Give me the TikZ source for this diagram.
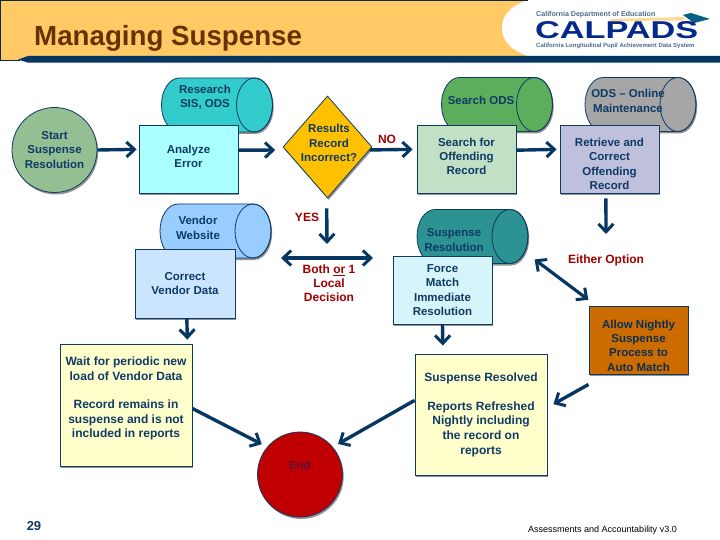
\documentclass[tikz,border=0pt]{standalone}
\usepackage{fontspec}
\setmainfont{Liberation Sans}
\usetikzlibrary{arrows.meta,shapes.geometric,shadows}
\definecolor{inkblue}{HTML}{0F3A66}
\definecolor{arrowblue}{HTML}{063763}
\definecolor{inkred}{HTML}{A00000}
\definecolor{headorange}{HTML}{FFC966}
\definecolor{titlebrown}{HTML}{663300}
\definecolor{paleyellow}{HTML}{FFFFCC}
\definecolor{tankcyan}{HTML}{33CCCC}
\definecolor{tankgreen}{HTML}{5CAD5C}
\definecolor{tankgray}{HTML}{A6A6A6}
\definecolor{tankblue}{HTML}{99CCFF}
\definecolor{tankteal}{HTML}{2D9292}
\tikzset{
    boxshadow/.style={drop shadow={shadow xshift=1.2pt,shadow yshift=-2pt,opacity=0.6,fill=black!70}},
    txt/.style={font=\fontsize{11.5}{14.3}\selectfont\bfseries,text=inkblue,align=center,inner sep=0pt},
    note/.style={font=\fontsize{12}{14}\selectfont\bfseries,text=inkred,align=center,inner sep=0pt},
    box/.style={draw=inkblue,line width=0.8pt,txt,boxshadow,anchor=center},
    disk/.style={draw=inkblue,line width=0.8pt,circle,txt,boxshadow,minimum size=85pt},
    tankline/.style={draw=inkblue,line width=0.8pt},
    flow/.style={draw=arrowblue,line width=3.4pt,-{Straight Barb[length=8pt,width=15pt,line width=3pt]}},
    flowboth/.style={draw=arrowblue,line width=3.2pt,{Straight Barb[length=8pt,width=15pt,line width=3pt]}-{Straight Barb[length=8pt,width=15pt,line width=3pt]}}
}
% name, position, colour
\newcommand{\tank}[3]{
    \node[minimum width=111pt,minimum height=54pt,inner sep=0pt] (#1) at (#2) {};
    \begin{scope}[shift={(#2)}]
        \draw[tankline,fill=#3,boxshadow] (-37.5,-27) -- (37.5,-27) .. controls (47.5,-27) and (55.5,-15) .. (55.5,0) .. controls (55.5,15) and (47.5,27) .. (37.5,27) -- (-37.5,27) .. controls (-47.5,27) and (-55.5,15) .. (-55.5,0) .. controls (-55.5,-15) and (-47.5,-27) .. (-37.5,-27) -- cycle;
        \draw[tankline] (37.5,0) ellipse [x radius=18,y radius=27];
    \end{scope}
}
\begin{document}
\begin{tikzpicture}[x=1pt,y=-1pt]
            \useasboundingbox (0,0) rectangle (720,540);
            \fill[white] (0,0) rectangle (720,540);
            % Kopf
            \fill[headorange] (0,0) -- (720,0) -- (720,60) -- (0,60) -- cycle;
            \fill[white] (528,0) .. controls (510,6) and (502,16) .. (502,28) .. controls (502,40) and (510,50) .. (528,56) -- (720,56) -- (720,0) -- cycle;
            \draw[inkblue!70!black,line width=0.8pt] (0,0.4) -- (528,0.4);
            \draw[inkblue!70!black,line width=0.8pt] (0.4,0) -- (0.4,60.5) -- (20,60.5);
            \fill[arrowblue] (18,59.5) -- (28,56) -- (720,56) -- (720,62.7) -- (28,62.7) -- cycle;
            \node[font=\fontsize{27.7}{30}\selectfont\bfseries,text=titlebrown,anchor=west,inner sep=0pt] (title) at (34,38) {Managing Suspense};
            % Logo
            \fill[headorange!70] (610,19) -- (684,17) -- (684,20.5) -- (610,21) -- cycle;
            \fill[arrowblue!80!cyan] (683,15) -- (691,13) -- (710,19) -- (694,23) -- cycle;
            \node[font=\fontsize{7.1}{8}\selectfont\bfseries,text=inkblue!75,anchor=west,inner sep=0pt] (logotop) at (536,15) {California Department of Education};
            \node[text=arrowblue!75!blue,anchor=west,inner sep=0pt] (logo) at (535,30.5) {\resizebox{163pt}{17pt}{\bfseries CALPADS}};
            \node[font=\fontsize{6}{6}\selectfont\bfseries,text=inkblue!75,anchor=west,inner sep=0pt] (logobot) at (536,45.5) {California Longitudinal Pupil Achievement Data System};
            % Zylinder
            \tank{research}{217,105}{tankcyan}
            \node[txt] (researchtext) at (205,97) {Research\\SIS, ODS};
            \tank{searchods}{497,104.5}{tankgreen}
            \node[txt] (searchodstext) at (481,100) {Search ODS};
            \tank{online}{640.5,104.5}{tankgray}
            \node[txt] (onlinetext) at (628,101) {ODS -- Online\\Maintenance};
            \tank{vendor}{215.5,231}{tankblue}
            \node[txt] (vendortext) at (198,228) {Vendor\\Website};
            \tank{suspense}{472.5,236.5}{tankteal}
            \node[txt] (suspensetext) at (454,240) {Suspense\\Resolution};
            % Start
            \node[disk,fill={rgb,255:red,147;green,191;blue,147}] (start) at (54.5,150) {Start\\Suspense\\Resolution};
            \node[disk,fill={rgb,255:red,192;green,0;blue,0}] (end) at (300,474.5) {};
            \node[txt,text={rgb,255:red,90;green,16;blue,64}] (endtext) at (300,465) {End};
            % Raute
            \node[draw=inkblue,line width=0.8pt,diamond,shape aspect=0.87,fill={rgb,255:red,255;green,192;blue,0},boxshadow,minimum width=89pt,minimum height=102pt,inner sep=0pt] (results) at (327.5,147) {};
            \node[txt] (resultstext) at (329,143) {Results\\Record\\Incorrect?};
            % Kaesten
            \node[box,fill={rgb,255:red,170;green,255;blue,255},minimum width=99pt,minimum height=68pt] (analyze) at (188.5,159) {Analyze\\Error\\[-9pt]\mbox{}};
            \node[box,fill={rgb,255:red,194;green,224;blue,198},minimum width=99pt,minimum height=68pt] (search) at (466.5,159) {Search for\\Offending\\Record\\[-9pt]\mbox{}};
            \node[box,fill={rgb,255:red,190;green,192;blue,220},minimum width=99pt,minimum height=68pt] (retrieve) at (609.5,159) {\mbox{}\\[4pt]Retrieve and\\Correct\\Offending\\Record};
            \node[box,fill={rgb,255:red,204;green,229;blue,255},minimum width=100pt,minimum height=69pt] (correct) at (185,283.5) {Correct\\Vendor Data};
            \node[box,fill={rgb,255:red,214;green,245;blue,250},minimum width=99pt,minimum height=68pt] (force) at (442.5,290) {Force\\Match\\Immediate\\Resolution};
            \node[box,fill={rgb,255:red,204;green,108;blue,0},minimum width=99pt,minimum height=68pt,text=inkblue!80!black] (allow) at (638.5,340) {\mbox{}\\[5pt]Allow Nightly\\Suspense\\Process to\\Auto Match};
            \node[box,fill=paleyellow,minimum width=132pt,minimum height=122pt,font=\fontsize{12}{14.4}\selectfont\bfseries] (wait) at (126,405) {Wait for periodic new\\load of Vendor Data\\[14.4pt]Record remains in\\suspense and is not\\included in reports\\[1pt]\mbox{}};
            \node[box,fill=paleyellow,minimum width=132pt,minimum height=121pt,font=\fontsize{12}{14.6}\selectfont\bfseries] (resolved) at (481,414.5) {Suspense Resolved\\[14.6pt]Reports Refreshed\\Nightly including\\the record on\\reports};
            % Texte
            \node[note] (no) at (387,139) {NO};
            \node[note] (yes) at (307,217) {YES};
            \node[note] (both) at (329,283) {Both \underline{or} 1\\Local\\Decision};
            \node[note] (either) at (606,260) {Either Option};
            \node[txt,font=\fontsize{13}{14}\selectfont\bfseries] (page) at (34,526) {29};
            \node[font=\fontsize{9}{10}\selectfont,anchor=west,inner sep=0pt] (footer) at (528,530) {Assessments and Accountability v3.0};
            % Pfeile
            \coordinate (yesend) at (327,244);
            \coordinate (splitleft) at (281,258);
            \coordinate (splitright) at (373,258);
            \coordinate (retrieveend) at (606,234);
            \draw[flow,shorten >=2pt] (start.east) -- (analyze.169.7);
            \draw[flow,shorten >=10pt] (analyze.10.3) -- (results.184);
            \draw[flow,shorten >=4pt] (results.-4) -- (search.169.7);
            \draw[flow,shorten >=3pt] (search.10.3) -- (retrieve.169.7);
            \draw[flow,shorten <=5pt] (retrieve.-96) -- (retrieveend);
            \draw[flow,shorten <=11pt] (results.-91) -- (yesend);
            \draw[flowboth] (splitleft) -- (splitright);
            \draw[flow,shorten >=4pt] (correct.-87) -- (wait.45);
            \draw[flow,shorten >=8pt] (force.south) -- (resolved.122);
            \draw[flow,shorten >=6pt] (wait.-3.5) -- (end.140);
            \draw[flow,shorten >=6pt] (resolved.168.4) -- (end.40);
            \draw[flow,shorten <=20.6pt,shorten >=6.9pt] (allow.227.2) -- (resolved.6.2);
            \draw[flowboth,shorten <=9.6pt,shorten >=8pt] (allow.141.7) -- (suspense.-18);
            \end{tikzpicture}
\end{document}
